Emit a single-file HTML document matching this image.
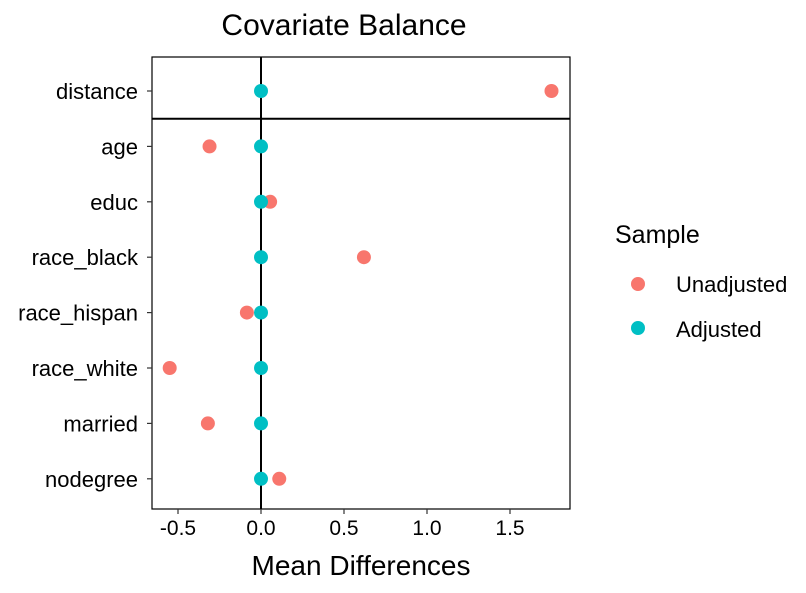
<!DOCTYPE html>
<html><head><meta charset="utf-8"><style>
body{margin:0;background:#fff;font-family:"Liberation Sans",sans-serif}
svg text{font-family:"Liberation Sans",sans-serif}
</style></head><body>
<svg id="c" width="806" height="588" xmlns="http://www.w3.org/2000/svg">
<text x="344" y="35" font-size="30" text-anchor="middle" fill="#000">Covariate Balance</text>
<rect x="152" y="57" width="418" height="452" fill="none" stroke="#000" stroke-width="1.2"/>
<g id="g"></g>
<text x="361" y="575" font-size="28" text-anchor="middle">Mean Differences</text>
<text x="615" y="243" font-size="25">Sample</text>
<g><circle cx="638" cy="284" r="7" fill="#F8766D"/><text x="676" y="292" font-size="22">Unadjusted</text></g>
<g><circle cx="638" cy="328" r="7" fill="#00BFC4"/><text x="676" y="337" font-size="22">Adjusted</text></g>
</svg>
<script>
const categories=["distance","age","educ","race_black","race_hispan","race_white","married","nodegree"];
const unadjusted=[1.75,-0.31,0.055,0.62,-0.085,-0.55,-0.32,0.11];
const adjusted=[0,0,0,0,0,0,0,0];
const xTicks=[-0.5,0,0.5,1,1.5];
const xTickLabels=["-0.5","0.0","0.5","1.0","1.5"];
const NS="http://www.w3.org/2000/svg";
const g=document.getElementById('g');
const x=v=>261+v*166;
const y=i=>91+i*55.4;
function mk(t,a){const e=document.createElementNS(NS,t);for(const k in a)e.setAttribute(k,a[k]);g.appendChild(e);return e;}
let l=mk('line',{x1:x(0),x2:x(0),y1:57,y2:509,stroke:'#000','stroke-width':2});


l=mk('line',{x1:152,x2:570,y1:(y(0)+y(1))/2,y2:(y(0)+y(1))/2,stroke:'#000','stroke-width':2});


xTicks.forEach((v,i)=>{
 mk('line',{x1:x(v),x2:x(v),y1:509,y2:514,stroke:'#333','stroke-width':1.2});
 const t=mk('text',{x:x(v),y:535,'font-size':21,'text-anchor':'middle',fill:'#000'});t.textContent=xTickLabels[i];
 
 
});
categories.forEach((c,i)=>{
 mk('line',{x1:147,x2:152,y1:y(i),y2:y(i),stroke:'#333','stroke-width':1.2});
 const t=mk('text',{x:138,y:y(i)+8,'font-size':22,'text-anchor':'end',fill:'#000'});t.textContent=c;
 
 
 const p=mk('circle',{cx:x(unadjusted[i]),cy:y(i),r:7,fill:'#F8766D'});
 
 
 const q=mk('circle',{cx:x(adjusted[i]),cy:y(i),r:7,fill:'#00BFC4'});
 
 
});
</script>
</body></html>
